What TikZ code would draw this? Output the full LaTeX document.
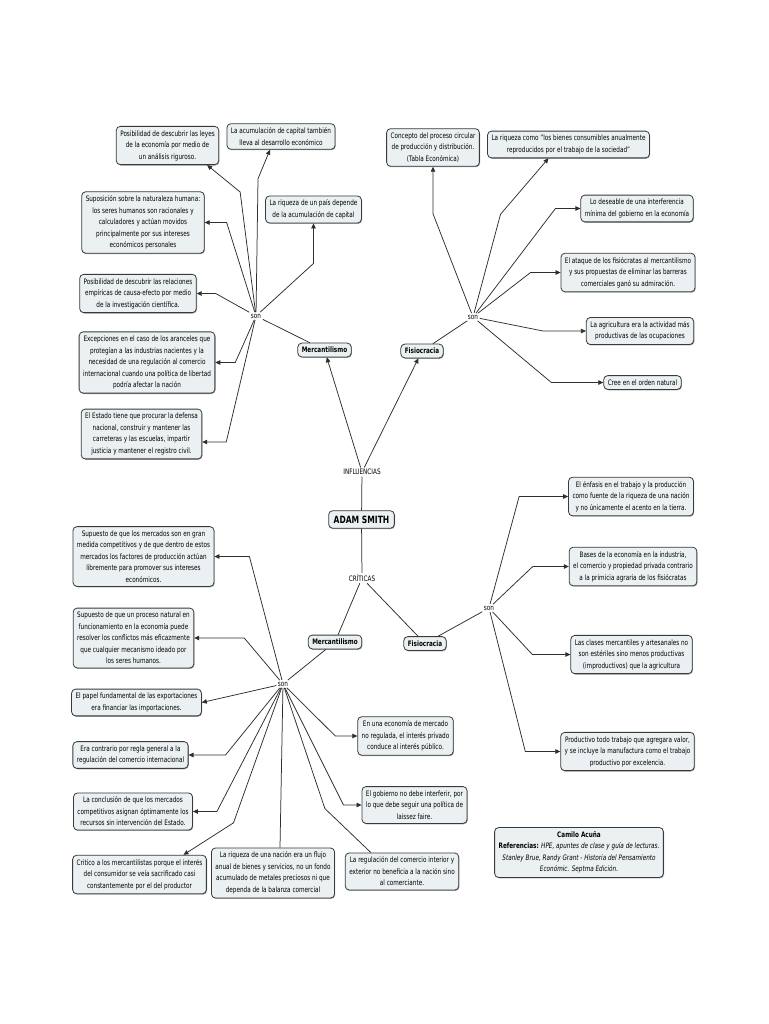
\documentclass[tikz,border=0pt]{standalone}
\usepackage{fontspec}
\setmainfont{DejaVu Sans}[FakeStretch=0.76]
\usetikzlibrary{arrows.meta, shadows}

\definecolor{boxfill}{HTML}{EBF1F2}
\definecolor{boxline}{HTML}{3A3A3A}
\definecolor{linkline}{HTML}{2E2E2E}

\tikzset{
  concept/.style={draw=boxline, line width=0.8pt, fill=boxfill, rounded corners=4pt,
    align=center, inner sep=4pt, font=\fontsize{7.5}{11.5}\selectfont,
    drop shadow={shadow xshift=0.7pt, shadow yshift=-0.9pt, fill=black!70}},
  title/.style={concept, font=\bfseries\fontsize{7.5}{9}\selectfont},
  linkword/.style={inner sep=1.5pt, font=\fontsize{7.5}{9}\selectfont},
  arrowlink/.style={draw=linkline, line width=0.75pt, -{Triangle[length=5pt, width=4.5pt]}},
  plainlink/.style={draw=linkline, line width=0.75pt}
}

\begin{document}
\begin{tikzpicture}[x=1pt, y=-1pt]
\useasboundingbox[fill=white] (0,0) rectangle (768,1024);

% centre: Adam Smith with the two linking words
\node[concept, font=\bfseries\fontsize{10}{12}\selectfont, inner sep=5pt] (adam) at (361.5,519.5) {ADAM SMITH};
\node[linkword] (infl) at (362,472) {INFLUENCIAS};
\node[linkword] (crit) at (362,578) {CRÍTICAS};
\draw[plainlink] (adam) -- (infl);
\draw[plainlink] (adam) -- (crit);

% influences: mercantilism (left) and physiocracy (right)
\node[title] (merc1) at (324.5,350) {Mercantilismo};
\node[title] (fis1) at (422,351) {Fisiocracia};
\draw[arrowlink] (infl) -- (merc1);
\draw[arrowlink] (infl) -- (fis1);

% what came from mercantilism
\node[linkword] (son1) at (256,316) {son};
\node[concept] (b1) at (167.5,145.5) {Posibilidad de descubrir las leyes\\de la economía por medio de\\un análisis riguroso.};
\node[concept] (b2) at (281,136.5) {La acumulación de capital también\\lleva al desarrollo económico};
\node[concept] (b3) at (313.5,209.5) {La riqueza de un país depende\\de la acumulación de capital};
\node[concept] (b4) at (143,222.5) {Suposición sobre la naturaleza humana:\\los seres humanos son racionales y\\calculadores y actúan movidos\\principalmente por sus intereses\\económicos personales};
\node[concept] (b5) at (138,293.5) {Posibilidad de descubrir las relaciones\\empíricas de causa-efecto por medio\\de la investigación científica.};
\node[concept] (b6) at (147,362.5) {Excepciones en el caso de los aranceles que\\protegían a las industrias nacientes y la\\necesidad de una regulación al comercio\\internacional cuando una política de libertad\\podría afectar la nación};
\node[concept] (b7) at (141.5,434) {El Estado tiene que procurar la defensa\\nacional, construir y mantener las\\carreteras y las escuelas, impartir\\justicia y mantener el registro civil.};
\draw[plainlink] (merc1) -- (son1);
\draw[arrowlink] (son1) -- ([xshift=21, yshift=-27]b1.south east) -- ([xshift=-12]b1.south east);
\draw[arrowlink] (son1) -- ([xshift=-23, yshift=-29]b2.south) -- ([xshift=-11]b2.south);
\draw[arrowlink] (son1) -- ([yshift=-40]b3.south) -- (b3.south);
\draw[arrowlink] (son1) -- ([xshift=22]b4.east) -- (b4.east);
\draw[arrowlink] (son1) -- ([xshift=19]b5.east) -- (b5.east);
\draw[arrowlink] (son1) -- ([xshift=20]b6.east) -- (b6.east);
\draw[arrowlink] (son1) -- ([xshift=24, yshift=-8]b7.east) -- ([yshift=-8]b7.east);

% what came from physiocracy
\node[linkword] (son2) at (473,317) {son};
\node[concept] (c1) at (433,147.5) {Concepto del proceso circular\\de producción y distribución.\\(Tabla Económica)};
\node[concept] (c2) at (568.5,144.5) {La riqueza como "los bienes consumibles anualmente\\reproducidos por el trabajo de la sociedad"};
\node[concept] (c3) at (637,208.5) {Lo deseable de una interferencia\\mínima del gobierno en la economía};
\node[concept] (c4) at (628,272.5) {El ataque de los fisiócratas al mercantilismo\\y sus propuestas de eliminar las barreras\\comerciales ganó su admiración.};
\node[concept] (c5) at (640,331) {La agricultura era la actividad más\\productivas de las ocupaciones};
\node[concept] (c6) at (642.5,382.5) {Cree en el orden natural};
\draw[plainlink] (fis1) -- (son2);
\draw[arrowlink] (son2) -- ([yshift=-47]c1.south) -- (c1.south);
\draw[arrowlink] (son2) -- ([xshift=-68, yshift=-56]c2.south) -- ([xshift=-20]c2.south);
\draw[arrowlink] (son2) -- ([xshift=-25]c3.west) -- (c3.west);
\draw[arrowlink] (son2) -- ([xshift=-30]c4.west) -- (c4.west);
\draw[arrowlink] (son2) -- ([xshift=-43]c5.west) -- (c5.west);
\draw[arrowlink] (son2) -- ([xshift=-52]c6.west) -- (c6.west);

% criticisms: mercantilism (left) and physiocracy (right)
\node[title] (merc2) at (335,642) {Mercantilismo};
\node[title] (fis2) at (425,643.5) {Fisiocracia};
\draw[plainlink] (crit) -- (merc2);
\draw[plainlink] (crit) -- (fis2);

% criticisms of physiocracy
\node[linkword] (son3) at (489,608) {son};
\node[concept] (d1) at (631,496.5) {El énfasis en el trabajo y la producción\\como fuente de la riqueza de una nación\\y no únicamente el acento en la tierra.};
\node[concept] (d2) at (633,566.5) {Bases de la economía en la industria,\\el comercio y propiedad privada contrario\\a la primicia agraria de los fisiócratas};
\node[concept] (d3) at (631.5,654.5) {Las clases mercantiles y artesanales no\\son estériles sino menos productivas\\(improductivos) que la agricultura};
\node[concept] (d4) at (627.5,751.5) {Productivo todo trabajo que agregara valor,\\y se incluye la manufactura como el trabajo\\productivo por excelencia.};
\draw[plainlink] (fis2) -- (son3);
\draw[arrowlink] (son3) -- ([xshift=-49]d1.west) -- (d1.west);
\draw[arrowlink] (son3) -- ([xshift=-36]d2.west) -- (d2.west);
\draw[arrowlink] (son3) -- ([xshift=-38]d3.west) -- (d3.west);
\draw[arrowlink] (son3) -- ([xshift=-35]d4.west) -- (d4.west);

% criticisms of mercantilism
\node[linkword] (son4) at (283,684) {son};
\node[concept] (e1) at (143.5,556.5) {Supuesto de que los mercados son en gran\\medida competitivos y de que dentro de estos\\mercados los factores de producción actúan\\libremente para promover sus intereses\\económicos.};
\node[concept] (e2) at (133.5,638) {Supuesto de que un proceso natural en\\funcionamiento en la economía puede\\resolver los conflictos más eficazmente\\que cualquier mecanismo ideado por\\los seres humanos.};
\node[concept] (e3) at (136.5,702.5) {El papel fundamental de las exportaciones\\era financiar las importaciones.};
\node[concept] (e4) at (130.5,755) {Era contrario por regla general a la\\regulación del comercio internacional};
\node[concept] (e5) at (133,811.5) {La conclusión de que los mercados\\competitivos asignan óptimamente los\\recursos sin intervención del Estado.};
\node[concept] (e6) at (139.5,874.5) {Critico a los mercantilistas porque el interés\\del consumidor se veía sacrificado casi\\constantemente por el del productor};
\node[concept] (e7) at (273,873) {La riqueza de una nación era un flujo\\anual de bienes y servicios, no un fondo\\acumulado de metales preciosos ni que\\dependa de la balanza comercial};
\node[concept] (e8) at (402,871.5) {La regulación del comercio interior y\\exterior no beneficia a la nación sino\\al comerciante.};
\node[concept] (e9) at (405.5,736) {En una economía de mercado\\no regulada, el interés privado\\conduce al interés público.};
\node[concept] (e10) at (414.5,805) {El gobierno no debe interferir, por\\lo que debe seguir una política de\\laissez faire.};
\draw[plainlink] (merc2) -- (son4);
\draw[arrowlink] (son4) -- ([xshift=35]e1.east) -- (e1.east);
\draw[arrowlink] (son4) -- ([xshift=50]e2.east) -- (e2.east);
\draw[arrowlink] (son4) -- (e3.east);
\draw[arrowlink] (son4) -- ([xshift=37]e4.east) -- (e4.east);
\draw[arrowlink] (son4) -- ([xshift=24]e5.east) -- (e5.east);
\draw[arrowlink] (son4) -- ([xshift=94, yshift=32]e6.north) -- ([xshift=44]e6.north);
\draw[plainlink] (son4) -- ([xshift=7]e7.north);
\draw[plainlink] (son4) -- ([xshift=-20, yshift=44]e8.north west) -- ([xshift=26]e8.north west);
\draw[arrowlink] (son4) -- ([xshift=-22]e9.west) -- (e9.west);
\draw[arrowlink] (son4) -- ([xshift=-18]e10.west) -- (e10.west);

% author and references
\node[concept] (refs) at (579,852.5) {\textbf{Camilo Acuña}\\\textbf{Referencias:} \textit{HPE, apuntes de clase y guía de lecturas.}\\\textit{Stanley Brue, Randy Grant - Historia del Pensamiento}\\\textit{Económic. Septma Edición.}};

\end{tikzpicture}
\end{document}
